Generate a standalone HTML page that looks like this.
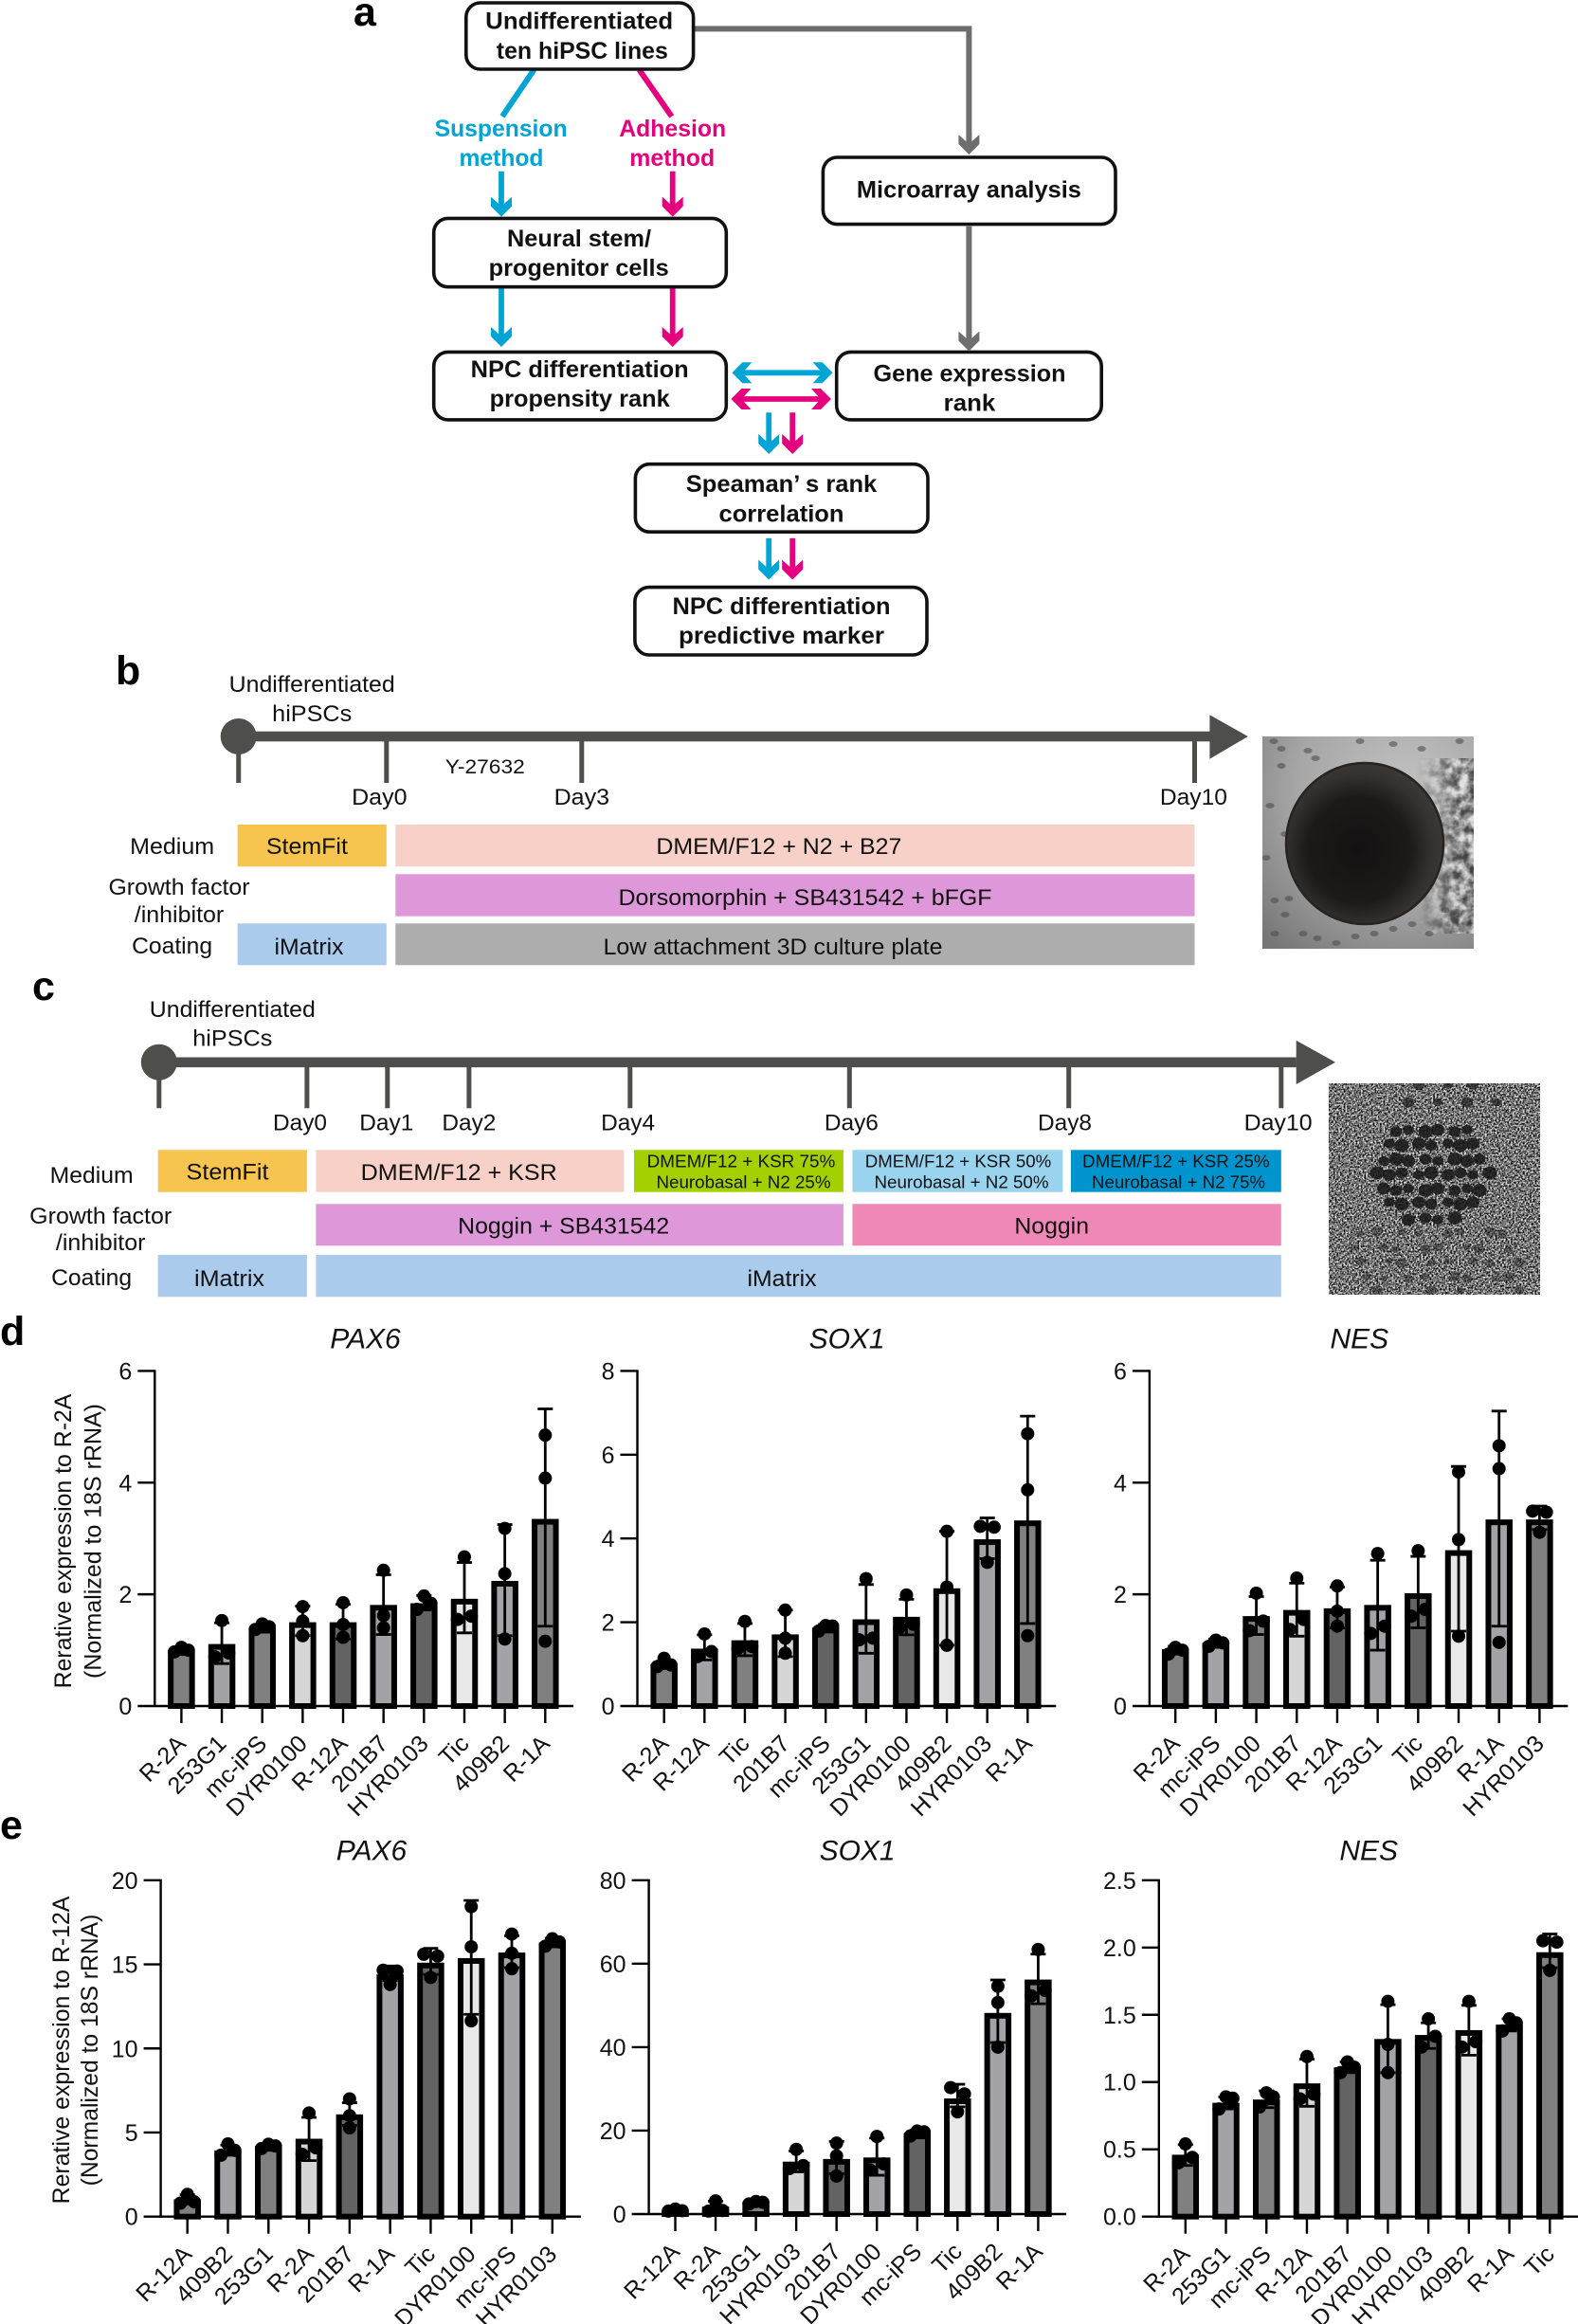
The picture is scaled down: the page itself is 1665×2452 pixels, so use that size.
<!DOCTYPE html>
<html lang="en">
<head>
<meta charset="utf-8">
<title>hiPSC neural differentiation figure</title>
<style>
html,body{margin:0;padding:0;background:#fff;}
svg{display:block;position:absolute;left:0;top:0;}
text{font-family:"Liberation Sans",sans-serif;fill:#111;}
.fb{font-weight:700;font-size:25px;text-anchor:middle;}
.tl{font-size:24px;text-anchor:middle;}
.sm{font-size:18px;text-anchor:middle;}
.pl{font-weight:700;font-size:43px;fill:#000;}
.ti{font-style:italic;font-size:30px;text-anchor:middle;}
.yt{font-size:25px;text-anchor:middle;}
.box{fill:#fff;stroke:#111;stroke-width:3.6;}
</style>
</head>
<body>
<svg id="fig" xmlns="http://www.w3.org/2000/svg" width="1665" height="2452" viewBox="0 0 1665 2452">
<defs>
<radialGradient id="bgB" gradientUnits="userSpaceOnUse" cx="1485" cy="835" r="215"><stop offset="0" stop-color="#c2c2c2"/><stop offset=".55" stop-color="#a6a6a6"/><stop offset="1" stop-color="#767676"/></radialGradient>
<radialGradient id="sphere" cx=".46" cy=".54" r=".54"><stop offset="0" stop-color="#141212"/><stop offset=".6" stop-color="#1c1a19"/><stop offset=".88" stop-color="#353230"/><stop offset="1" stop-color="#3a3735"/></radialGradient>
<linearGradient id="fadeRight" gradientUnits="userSpaceOnUse" x1="1495" y1="0" x2="1540" y2="0"><stop offset="0" stop-color="#000"/><stop offset="1" stop-color="#fff"/></linearGradient>
<mask id="maskRight" maskUnits="userSpaceOnUse" x="1332" y="777" width="223" height="224"><rect x="1332" y="777" width="223" height="224" fill="url(#fadeRight)"/></mask>
<filter id="mottle" x="0" y="0" width="100%" height="100%" color-interpolation-filters="sRGB"><feTurbulence type="fractalNoise" baseFrequency="0.1" numOctaves="3" seed="4"/><feColorMatrix type="matrix" values="2.2 0 0 0 -0.6 2.2 0 0 0 -0.6 2.2 0 0 0 -0.6 0 0 0 0 1"/></filter>
<filter id="grain" x="0" y="0" width="100%" height="100%" color-interpolation-filters="sRGB"><feTurbulence type="fractalNoise" baseFrequency="0.55" numOctaves="2" seed="9"/><feColorMatrix type="matrix" values="2 0 0 0 -0.55 2 0 0 0 -0.55 2 0 0 0 -0.55 0 0 0 0 1"/></filter>
<clipPath id="clipC"><rect x="1402" y="1143" width="223" height="223"/></clipPath>
<clipPath id="clipB"><rect x="1332" y="777" width="223" height="224"/></clipPath>
</defs>

<!-- panel labels -->
<text class="pl" x="373" y="27">a</text>
<text class="pl" x="122" y="722">b</text>
<text class="pl" x="34" y="1055">c</text>
<text class="pl" x="0" y="1419">d</text>
<text class="pl" x="0" y="1940">e</text>

<!-- panel a: flowchart -->
<g id="flow">
<path d="M731 30.4H1022.4V150" fill="none" stroke="#6e6e6e" stroke-width="6"/>
<line x1="1022.4" y1="238.8" x2="1022.4" y2="360" stroke="#6e6e6e" stroke-width="6"/>
<line x1="563.3" y1="73.7" x2="530" y2="122.8" stroke="#00a5d6" stroke-width="6"/>
<line x1="674.5" y1="73.7" x2="708.7" y2="122.8" stroke="#e6007e" stroke-width="6"/>

<rect class="box" x="491.8" y="3" width="239.8" height="70" rx="15"/>
<text class="fb" x="611.2" y="30.5" textLength="198" lengthAdjust="spacingAndGlyphs">Undifferentiated</text>
<text class="fb" x="614.3" y="62" textLength="181" lengthAdjust="spacingAndGlyphs">ten hiPSC lines</text>

<text class="fb" x="528.6" y="144" textLength="140" lengthAdjust="spacingAndGlyphs" style="fill:#00a5d6">Suspension</text>
<text class="fb" x="529" y="175" textLength="89" lengthAdjust="spacingAndGlyphs" style="fill:#00a5d6">method</text>
<text class="fb" x="709.7" y="144" textLength="113" lengthAdjust="spacingAndGlyphs" style="fill:#e6007e">Adhesion</text>
<text class="fb" x="709.2" y="175" textLength="90" lengthAdjust="spacingAndGlyphs" style="fill:#e6007e">method</text>

<rect class="box" x="868.4" y="166" width="308.6" height="70.6" rx="15"/>
<text class="fb" x="1022.4" y="208.5" textLength="237" lengthAdjust="spacingAndGlyphs">Microarray analysis</text>

<rect class="box" x="457.7" y="230.4" width="308.6" height="72.3" rx="15"/>
<text class="fb" x="611" y="259.8" textLength="152" lengthAdjust="spacingAndGlyphs">Neural stem/</text>
<text class="fb" x="610.7" y="291" textLength="190" lengthAdjust="spacingAndGlyphs">progenitor cells</text>

<rect class="box" x="457.7" y="371.4" width="308.6" height="71.5" rx="15"/>
<text class="fb" x="611.7" y="397.8" textLength="230" lengthAdjust="spacingAndGlyphs">NPC differentiation</text>
<text class="fb" x="611.7" y="429" textLength="190" lengthAdjust="spacingAndGlyphs">propensity rank</text>

<rect class="box" x="882.7" y="371.4" width="279.5" height="71.5" rx="15"/>
<text class="fb" x="1023" y="402.3" textLength="203" lengthAdjust="spacingAndGlyphs">Gene expression</text>
<text class="fb" x="1023" y="433.5" textLength="54.6" lengthAdjust="spacingAndGlyphs">rank</text>

<rect class="box" x="670.4" y="489.7" width="308.6" height="71.5" rx="15"/>
<text class="fb" x="824.5" y="519.2" textLength="201.5" lengthAdjust="spacingAndGlyphs">Speaman’ s rank</text>
<text class="fb" x="824.5" y="550.5" textLength="132" lengthAdjust="spacingAndGlyphs">correlation</text>

<rect class="box" x="669.9" y="619.6" width="308.1" height="71.4" rx="15"/>
<text class="fb" x="824.5" y="648.2" textLength="230" lengthAdjust="spacingAndGlyphs">NPC differentiation</text>
<text class="fb" x="824.5" y="679" textLength="217" lengthAdjust="spacingAndGlyphs">predictive marker</text>
</g>

<!-- panel b -->
<g>
<text class="tl" x="329.2" y="730" textLength="175" lengthAdjust="spacingAndGlyphs">Undifferentiated</text>
<text class="tl" x="329.2" y="761" textLength="84" lengthAdjust="spacingAndGlyphs">hiPSCs</text>
<path d="M251.7 777V826M407.8 777V826M613.8 777V826M1260.5 777V826" stroke="#4e4e4c" stroke-width="5" fill="none"/>
<circle cx="251.7" cy="777" r="19" fill="#4e4e4c"/>
<rect x="251.7" y="771.7" width="1025" height="10.6" fill="#4e4e4c"/>
<polygon points="1276.4,754.3 1316.8,777 1276.4,800.7" fill="#4e4e4c"/>
<text class="tl" x="511.8" y="816" font-size="21" style="font-size:21px" textLength="84" lengthAdjust="spacingAndGlyphs">Y-27632</text>
<text class="tl" x="400.3" y="849" textLength="58.4" lengthAdjust="spacingAndGlyphs">Day0</text>
<text class="tl" x="613.8" y="849" textLength="58.4" lengthAdjust="spacingAndGlyphs">Day3</text>
<text class="tl" x="1259.4" y="849" textLength="71" lengthAdjust="spacingAndGlyphs">Day10</text>

<rect x="250.6" y="870" width="157.2" height="44.3" fill="#f6c44f"/>
<rect x="417.3" y="870" width="843.2" height="44.3" fill="#f7d1c8"/>
<rect x="417.3" y="922.3" width="843.2" height="44.4" fill="#de98d9"/>
<rect x="250.6" y="974.3" width="157.2" height="44" fill="#abcbec"/>
<rect x="417.3" y="974.3" width="843.2" height="44" fill="#adadad"/>
<text class="tl" x="323.9" y="901" textLength="86" lengthAdjust="spacingAndGlyphs">StemFit</text>
<text class="tl" x="821.9" y="901" textLength="259" lengthAdjust="spacingAndGlyphs">DMEM/F12 + N2 + B27</text>
<text class="tl" x="849.5" y="955" textLength="394" lengthAdjust="spacingAndGlyphs">Dorsomorphin + SB431542 + bFGF</text>
<text class="tl" x="326" y="1007" textLength="73" lengthAdjust="spacingAndGlyphs">iMatrix</text>
<text class="tl" x="815.5" y="1007" textLength="358" lengthAdjust="spacingAndGlyphs">Low attachment 3D culture plate</text>
<text class="tl" x="181.6" y="901" textLength="89" lengthAdjust="spacingAndGlyphs">Medium</text>
<text class="tl" x="189" y="944" textLength="149" lengthAdjust="spacingAndGlyphs">Growth factor</text>
<text class="tl" x="189" y="973" textLength="94.5" lengthAdjust="spacingAndGlyphs">/inhibitor</text>
<text class="tl" x="181.6" y="1006" textLength="85" lengthAdjust="spacingAndGlyphs">Coating</text>
</g>

<!-- micrograph b -->
<g clip-path="url(#clipB)" id="micB">
<rect x="1332" y="777" width="223" height="224" fill="url(#bgB)"/>
<g mask="url(#maskRight)"><rect x="1490" y="800" width="65" height="185" filter="url(#mottle)" opacity=".6"/></g>
</g>

<!-- panel c -->
<g>
<text class="tl" x="245.3" y="1073" textLength="175" lengthAdjust="spacingAndGlyphs">Undifferentiated</text>
<text class="tl" x="245.3" y="1103.5" textLength="84" lengthAdjust="spacingAndGlyphs">hiPSCs</text>
<path d="M167.8 1120V1169.3M323.9 1120V1169.3M408.8 1120V1169.3M494.9 1120V1169.3M664.8 1120V1169.3M896.3 1120V1169.3M1127.7 1120V1169.3M1351.8 1120V1169.3" stroke="#4e4e4c" stroke-width="5" fill="none"/>
<circle cx="167.8" cy="1120.7" r="19" fill="#4e4e4c"/>
<rect x="167.8" y="1115.5" width="1200" height="10.6" fill="#4e4e4c"/>
<polygon points="1367.7,1097.7 1409,1120.7 1367.7,1144" fill="#4e4e4c"/>
<text class="tl" x="316.5" y="1192.5" textLength="57" lengthAdjust="spacingAndGlyphs">Day0</text>
<text class="tl" x="407.8" y="1192.5" textLength="57" lengthAdjust="spacingAndGlyphs">Day1</text>
<text class="tl" x="494.9" y="1192.5" textLength="57" lengthAdjust="spacingAndGlyphs">Day2</text>
<text class="tl" x="662.6" y="1192.5" textLength="57" lengthAdjust="spacingAndGlyphs">Day4</text>
<text class="tl" x="898.4" y="1192.5" textLength="57" lengthAdjust="spacingAndGlyphs">Day6</text>
<text class="tl" x="1123.5" y="1192.5" textLength="57" lengthAdjust="spacingAndGlyphs">Day8</text>
<text class="tl" x="1348.6" y="1192.5" textLength="72" lengthAdjust="spacingAndGlyphs">Day10</text>

<rect x="166.7" y="1213.3" width="157.2" height="44.4" fill="#f6c44f"/>
<rect x="333.4" y="1213.3" width="325" height="44.4" fill="#f7d1c8"/>
<rect x="669" y="1213.3" width="220.9" height="44.4" fill="#a3d000"/>
<rect x="899.4" y="1213.3" width="222" height="44.4" fill="#99d3ee"/>
<rect x="1129.9" y="1213.3" width="221.9" height="44.4" fill="#0094ce"/>
<rect x="333.4" y="1270.3" width="556.5" height="44" fill="#de98d9"/>
<rect x="899.4" y="1270.3" width="452.4" height="44" fill="#ef87b7"/>
<rect x="166.7" y="1324" width="157.2" height="44.3" fill="#abcbec"/>
<rect x="333.4" y="1324" width="1018.4" height="44.3" fill="#abcbec"/>
<text class="tl" x="240" y="1244.5" textLength="87" lengthAdjust="spacingAndGlyphs">StemFit</text>
<text class="tl" x="484.2" y="1245" textLength="207" lengthAdjust="spacingAndGlyphs">DMEM/F12 + KSR</text>
<text class="sm" x="782" y="1231.6" textLength="198.6" lengthAdjust="spacingAndGlyphs">DMEM/F12 + KSR 75%</text>
<text class="sm" x="784.5" y="1253.6" textLength="184" lengthAdjust="spacingAndGlyphs">Neurobasal + N2 25%</text>
<text class="sm" x="1011" y="1231.6" textLength="196.5" lengthAdjust="spacingAndGlyphs">DMEM/F12 + KSR 50%</text>
<text class="sm" x="1014.5" y="1253.6" textLength="184" lengthAdjust="spacingAndGlyphs">Neurobasal + N2 50%</text>
<text class="sm" x="1240.8" y="1231.6" textLength="197.5" lengthAdjust="spacingAndGlyphs">DMEM/F12 + KSR 25%</text>
<text class="sm" x="1243.5" y="1253.6" textLength="183" lengthAdjust="spacingAndGlyphs">Neurobasal + N2 75%</text>
<text class="tl" x="594.7" y="1301.5" textLength="223" lengthAdjust="spacingAndGlyphs">Noggin + SB431542</text>
<text class="tl" x="1109.7" y="1301.5" textLength="78.6" lengthAdjust="spacingAndGlyphs">Noggin</text>
<text class="tl" x="242" y="1357" textLength="74" lengthAdjust="spacingAndGlyphs">iMatrix</text>
<text class="tl" x="825" y="1357" textLength="73" lengthAdjust="spacingAndGlyphs">iMatrix</text>
<text class="tl" x="96.6" y="1248" textLength="88" lengthAdjust="spacingAndGlyphs">Medium</text>
<text class="tl" x="106.2" y="1291" textLength="150" lengthAdjust="spacingAndGlyphs">Growth factor</text>
<text class="tl" x="106.2" y="1319" textLength="94.5" lengthAdjust="spacingAndGlyphs">/inhibitor</text>
<text class="tl" x="96.6" y="1356" textLength="85" lengthAdjust="spacingAndGlyphs">Coating</text>
</g>

<!-- micrograph c -->
<g clip-path="url(#clipC)" id="micC">
<rect x="1402" y="1143" width="223" height="223" filter="url(#grain)"/>
</g>

<!-- chart titles -->
<text class="ti" x="385.5" y="1422.5">PAX6</text>
<text class="ti" x="893.6" y="1422.5">SOX1</text>
<text class="ti" x="1434.3" y="1422.5">NES</text>
<text class="ti" x="392" y="1962.5">PAX6</text>
<text class="ti" x="904.6" y="1962.5">SOX1</text>
<text class="ti" x="1444.2" y="1962.5">NES</text>

<!-- y-axis titles -->
<text class="yt" transform="translate(75 1626) rotate(-90)" textLength="310.7" lengthAdjust="spacingAndGlyphs">Rerative expression to R-2A</text>
<text class="yt" transform="translate(106.5 1626) rotate(-90)" textLength="290" lengthAdjust="spacingAndGlyphs">(Normalized to 18S rRNA)</text>
<text class="yt" transform="translate(73 2163) rotate(-90)" textLength="324.7" lengthAdjust="spacingAndGlyphs">Rerative expression to R-12A</text>
<text class="yt" transform="translate(103 2163) rotate(-90)" textLength="286.7" lengthAdjust="spacingAndGlyphs">(Normalized to 18S rRNA)</text>

<g id="charts"></g>
</svg>

<script>
/* ---------- chart data ---------- */
const dPax6Categories = ["R-2A","253G1","mc-iPS","DYR0100","R-12A","201B7","HYR0103","Tic","409B2","R-1A"];
const dPax6Means = [1.0,1.11,1.4,1.5,1.5,1.81,1.84,1.92,2.24,3.35];
const dPax6Upper = [1.05,1.49,1.45,1.79,1.82,2.35,1.98,2.57,3.25,5.32];
const dPax6Lower = [0.95,0.76,1.36,1.26,1.2,1.28,1.72,1.31,1.26,1.43];
const dPax6Points = [[1.05,1.0,0.97],[1.53,0.95,0.88],[1.47,1.42,1.37],[1.78,1.52,1.26],[1.85,1.46,1.23],[2.43,1.62,1.4],[1.97,1.84,1.73],[2.67,1.61,1.55],[3.18,2.37,1.2],[4.85,4.08,1.16]];
const dPax6Ticks = [0,2,4,6];
const dPax6TickLabels = ["0","2","4","6"];

const dSox1Categories = ["R-2A","R-12A","Tic","201B7","mc-iPS","253G1","DYR0100","409B2","HYR0103","R-1A"];
const dSox1Means = [1.0,1.37,1.57,1.71,1.87,2.07,2.13,2.81,3.98,4.43];
const dSox1Upper = [1.08,1.7,1.97,2.29,1.95,2.9,2.55,4.17,4.49,6.92];
const dSox1Lower = [0.92,1.1,1.2,1.18,1.78,1.26,1.7,1.45,3.52,1.97];
const dSox1Points = [[1.14,0.98,0.94],[1.72,1.3,1.18],[2.02,1.42,1.38],[2.29,1.62,1.26],[1.92,1.91,1.79],[3.04,1.62,1.58],[2.65,1.95,1.87],[4.17,2.84,1.45],[4.29,4.27,3.43],[6.5,5.16,1.68]];
const dSox1Ticks = [0,2,4,6,8];
const dSox1TickLabels = ["0","2","4","6","8"];

const dNesCategories = ["R-2A","mc-iPS","DYR0100","201B7","R-12A","253G1","Tic","409B2","R-1A","HYR0103"];
const dNesMeans = [1.02,1.14,1.61,1.72,1.75,1.81,2.02,2.79,3.34,3.34];
const dNesUpper = [1.07,1.2,1.96,2.2,2.13,2.61,2.68,4.29,5.28,3.58];
const dNesLower = [0.93,1.05,1.28,1.25,1.4,1.0,1.4,1.34,1.43,3.16];
const dNesPoints = [[1.05,1.0,0.93],[1.18,1.13,1.07],[2.02,1.52,1.35],[2.29,1.55,1.37],[2.15,1.7,1.43],[2.73,1.43,1.3],[2.78,1.73,1.61],[4.19,2.98,1.25],[4.66,4.25,1.14],[3.49,3.47,3.11]];
const dNesTicks = [0,2,4,6];
const dNesTickLabels = ["0","2","4","6"];

const ePax6Categories = ["R-12A","409B2","253G1","R-2A","201B7","R-1A","Tic","DYR0100","mc-iPS","HYR0103"];
const ePax6Means = [1.03,3.94,4.2,4.63,6.08,14.4,15.1,15.37,15.7,16.3];
const ePax6Upper = [1.3,4.25,4.3,5.9,6.77,14.9,15.95,18.8,16.7,16.55];
const ePax6Lower = [0.75,3.65,4.05,3.33,5.43,14.03,14.4,12.03,14.8,16.05];
const ePax6Points = [[1.32,0.88,0.8],[4.32,3.94,3.65],[4.3,4.2,4.05],[6.16,4.09,3.71],[7.0,6.0,5.28],[14.65,14.6,13.8],[15.6,15.49,14.22],[18.43,16.04,11.64],[16.8,15.66,14.74],[16.52,16.33,16.08]];
const ePax6Ticks = [0,5,10,15,20];
const ePax6TickLabels = ["0","5","10","15","20"];

const eSox1Categories = ["R-12A","R-2A","253G1","HYR0103","201B7","DYR0100","mc-iPS","Tic","409B2","R-1A"];
const eSox1Means = [1.0,1.8,2.93,12.56,13.2,13.56,19.3,27.7,48.2,56.2];
const eSox1Upper = [1.3,3.1,3.2,15.1,17.4,18.2,20.1,31.1,56.1,62.3];
const eSox1Lower = [0.7,0.6,2.5,10.1,9.7,9.3,18.6,25.7,41.1,50.4];
const eSox1Points = [[1.2,0.8,0.7],[3.16,0.85,0.7],[3.0,2.8,2.4],[15.5,11.6,10.9],[17.0,13.95,9.1],[18.6,12.0,10.6],[19.9,19.7,18.7],[30.3,28.8,24.5],[54.6,50.7,40.0],[63.4,53.6,52.3]];
const eSox1Ticks = [0,20,40,60,80];
const eSox1TickLabels = ["0","20","40","60","80"];

const eNesCategories = ["R-2A","253G1","mc-iPS","R-12A","201B7","DYR0100","HYR0103","409B2","R-1A","Tic"];
const eNesMeans = [0.46,0.846,0.87,0.99,1.11,1.32,1.35,1.386,1.427,1.965];
const eNesUpper = [0.535,0.89,0.935,1.17,1.15,1.575,1.44,1.57,1.47,2.1];
const eNesLower = [0.38,0.8,0.81,0.82,1.07,1.07,1.25,1.2,1.38,1.85];
const eNesPoints = [[0.54,0.44,0.4],[0.89,0.88,0.8],[0.92,0.89,0.815],[1.19,0.91,0.875],[1.15,1.11,1.07],[1.6,1.28,1.07],[1.47,1.34,1.26],[1.6,1.3,1.26],[1.47,1.44,1.38],[2.05,2.04,1.83]];
const eNesTicks = [0,0.5,1,1.5,2,2.5];
const eNesTickLabels = ["0.0","0.5","1.0","1.5","2.0","2.5"];

/* ---------- render helpers ---------- */
const NS = "http://www.w3.org/2000/svg";
function mk(parent, tag, attrs) {
  const el = document.createElementNS(NS, tag);
  for (const k in attrs) el.setAttribute(k, attrs[k]);
  parent.appendChild(el);
  return el;
}

/* arrows in the flowchart */
const flow = document.getElementById("flow");
function arrow(name, color, x1, y1, x2, y2) {
  const g = mk(flow, "g", {});
  
  
  const len = Math.hypot(x2 - x1, y2 - y1), ux = (x2 - x1) / len, uy = (y2 - y1) / len, px = -uy, py = ux;
  const P = (a, b) => (x2 - ux * a + px * b).toFixed(1) + "," + (y2 - uy * a + py * b).toFixed(1);
  mk(g, "line", {x1: x1, y1: y1, x2: x2 - ux * 7, y2: y2 - uy * 7, stroke: color, "stroke-width": 5.8});
  mk(g, "polygon", {fill: color, points: [P(0,0),P(11,11),P(21,11),P(11,0),P(21,-11),P(11,-11)].join(" ")});
}
const CY = "#00a5d6", MG = "#e6007e", GR = "#6e6e6e";
arrow("microarray-arrow", GR, 1022.4, 140, 1022.4, 163);
arrow("gene-rank-arrow", GR, 1022.4, 345, 1022.4, 370.5);
arrow("suspension-arrow", CY, 529, 180.8, 529, 228.6);
arrow("adhesion-arrow", MG, 709.7, 180.8, 709.7, 228.6);
arrow("nsc-suspension-arrow", CY, 529, 304.5, 529, 366);
arrow("nsc-adhesion-arrow", MG, 709.7, 304.5, 709.7, 366);
arrow("rank-cyan-left", CY, 825, 393.3, 772.4, 393.3);
arrow("rank-cyan-right", CY, 825, 393.3, 878.6, 393.3);
arrow("rank-magenta-left", MG, 824, 421, 771.4, 421);
arrow("rank-magenta-right", MG, 824, 421, 877, 421);
arrow("spearman-cyan-arrow", CY, 811.2, 435.3, 811.2, 479);
arrow("spearman-magenta-arrow", MG, 836.2, 435.3, 836.2, 479);
arrow("marker-cyan-arrow", CY, 811.2, 567.9, 811.2, 611.6);
arrow("marker-magenta-arrow", MG, 836.2, 567.9, 836.2, 611.6);

/* micrograph decoration */
const micB = document.getElementById("micB");
const specks = [[1344,782],[1352,790],[1380,792],[1388,800],[1352,808],[1340,850],[1356,880],[1336,905],[1345,950],[1360,948],[1356,965],[1375,985],[1390,990],[1345,985],[1410,995],[1430,988],[1450,985],[1470,980],[1490,975],[1508,985],[1525,960],[1500,945],[1435,782],[1470,785],[1500,790],[1540,782]];
specks.forEach(function (s) {
  mk(micB, "ellipse", {cx: s[0], cy: s[1], rx: 4.5, ry: 3, fill: "#4e4e4e", opacity: .6});
});
mk(micB, "ellipse", {cx: 1440, cy: 890, rx: 83, ry: 85, fill: "url(#sphere)", stroke: "#262423", "stroke-width": 2.5});

const micC = document.getElementById("micC");
for (let r = 0; r < 15; r++) {
  for (let c = 0; c < 16; c++) {
    const cx = 1406 + c * 15 + (r % 2) * 7 + ((r * 5 + c * 3) % 5) - 2, cy = 1146 + r * 15.5 + ((r + c * 2) % 4) - 1.5;
    const dx = (cx - 1512) / 62, dy = (cy - 1238) / 58;
    const inCore = dx * dx + dy * dy < 1;
    const inLower = cy > 1290 && cy < 1362 && cx > 1425 && cx < 1610 && (r * 2 + c) % 3 !== 0;
    const inTop = cy < 1166 && cx > 1475 && cx < 1580 && (r + c) % 2 === 0;
    const size = 5 + ((r * 7 + c * 3) % 4) * 0.6;
    if (inCore) {
      mk(micC, "ellipse", {cx: cx, cy: cy, rx: size + 0.8, ry: size, fill: "#161616", opacity: .85});
    } else if (inTop) {
      mk(micC, "ellipse", {cx: cx, cy: cy, rx: size, ry: size - 0.8, fill: "#1c1c1c", opacity: .7});
    } else if (inLower) {
      mk(micC, "ellipse", {cx: cx, cy: cy, rx: size - 1, ry: size - 1.8, fill: "#242424", opacity: .5});
    }
  }
}

/* bar fills by position, as in the figure */
const POSITION_FILLS = ["#808080","#a3a3a7","#808080","#d6d6d6","#636363","#a3a3a7","#636363","#e8e8e8","#a3a3a7","#808080"];

function spreadDots(vals, y) {
  const gap = 12.5, off = 7.3;
  const a = y(vals[0]), b = y(vals[1]), c = y(vals[2]);
  const ab = b - a < gap, bc = c - b < gap;
  if (ab && bc) return [0, off, -off];
  if (ab) return [-off, off, 0];
  if (bc) return [0, off, -off];
  return [0, 0, 0];
}

function drawChart(id, layout, categories, means, upper, lower, points, ticks, tickLabels) {
  const root = document.getElementById("charts");
  const g = mk(root, "g", {});
  
  
  const yMax = ticks[ticks.length - 1];
  const yScale = v => layout.y0 - (v / yMax) * (layout.y0 - layout.yTop);
  const xScale = i => layout.first + i * (layout.last - layout.first) / (categories.length - 1);
  const barW = 28.5, sw = 6, half = (barW - sw) / 2;

  categories.forEach(function (name, i) {
    const x = xScale(i);
    const bar = mk(g, "rect", {x: x - half, y: yScale(means[i]) + sw / 2, width: half * 2, height: Math.max(0, layout.y0 - yScale(means[i]) - sw / 2), fill: POSITION_FILLS[i], stroke: "#000", "stroke-width": sw});
    
    

    const err = mk(g, "path", {d: "M" + x + " " + yScale(upper[i]) + "V" + yScale(lower[i]) + "M" + (x - 8) + " " + yScale(upper[i]) + "H" + (x + 8) + "M" + (x - 8) + " " + yScale(lower[i]) + "H" + (x + 8), stroke: "#000", "stroke-width": 2.8, fill: "none"});
    
    

    const offs = spreadDots(points[i], yScale);
    points[i].forEach(function (v, k) {
      const dot = mk(g, "circle", {cx: x + offs[k], cy: yScale(v), r: 7, fill: "#000"});
      
      
    });

    const tick = mk(g, "line", {x1: x, x2: x, y1: layout.y0, y2: layout.y0 + 18, stroke: "#000", "stroke-width": 2.4});
    
    

    const ax = x, ay = layout.y0 + 35;
    const lab = mk(g, "text", {x: ax, y: ay, dy: ".35em", "text-anchor": "end", "font-size": 25, transform: "rotate(-45 " + ax + " " + ay + ")"});
    lab.textContent = name;
    
    
  });

  const yAxis = mk(g, "line", {x1: layout.axisX, x2: layout.axisX, y1: layout.yTop - 1, y2: layout.y0 + 1, stroke: "#000", "stroke-width": 2.4});
  
  
  const xAxis = mk(g, "line", {x1: layout.axisX, x2: layout.right, y1: layout.y0, y2: layout.y0, stroke: "#000", "stroke-width": 2.4});
  
  

  ticks.forEach(function (t, i) {
    const y = yScale(t);
    const tk = mk(g, "line", {x1: layout.axisX - 18, x2: layout.axisX, y1: y, y2: y, stroke: "#000", "stroke-width": 2.4});
    
    
    const tl = mk(g, "text", {x: layout.axisX - 24, y: y, dy: ".36em", "text-anchor": "end", "font-size": 25});
    tl.textContent = tickLabels[i];
    
    
  });
}

drawChart("d-pax6", {axisX:163.3, right:605, y0:1800, yTop:1446.4, first:191.4, last:575.3}, dPax6Categories, dPax6Means, dPax6Upper, dPax6Lower, dPax6Points, dPax6Ticks, dPax6TickLabels);
drawChart("d-sox1", {axisX:672.5, right:1114.3, y0:1800, yTop:1446.4, first:700.7, last:1084.3}, dSox1Categories, dSox1Means, dSox1Upper, dSox1Lower, dSox1Points, dSox1Ticks, dSox1TickLabels);
drawChart("d-nes", {axisX:1212.9, right:1654.4, y0:1800, yTop:1446.4, first:1240.2, last:1624.4}, dNesCategories, dNesMeans, dNesUpper, dNesLower, dNesPoints, dNesTicks, dNesTickLabels);
drawChart("e-pax6", {axisX:169.6, right:612.9, y0:2338.7, yTop:1983.8, first:197.7, last:582.8}, ePax6Categories, ePax6Means, ePax6Upper, ePax6Lower, ePax6Points, ePax6Ticks, ePax6TickLabels);
drawChart("e-sox1", {axisX:684.6, right:1125, y0:2336, yTop:1983.8, first:712.5, last:1095.4}, eSox1Categories, eSox1Means, eSox1Upper, eSox1Lower, eSox1Points, eSox1Ticks, eSox1TickLabels);
drawChart("e-nes", {axisX:1222.8, right:1665, y0:2338.7, yTop:1983.8, first:1250.8, last:1635.3}, eNesCategories, eNesMeans, eNesUpper, eNesLower, eNesPoints, eNesTicks, eNesTickLabels);
</script>
</body>
</html>
